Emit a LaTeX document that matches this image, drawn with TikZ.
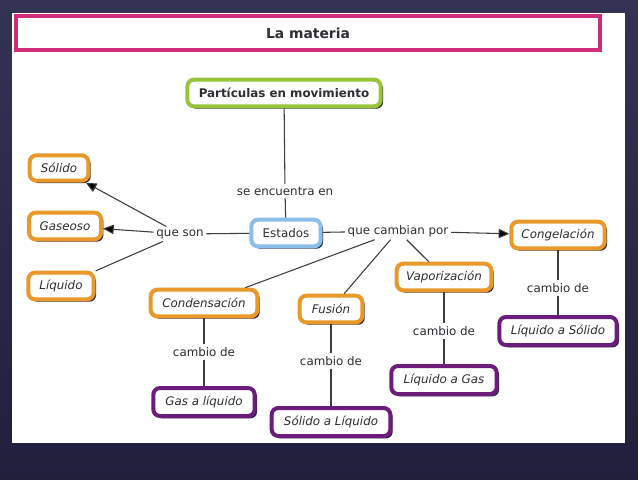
\documentclass[tikz,border=0pt]{standalone}
\usepackage{fontspec}
\setmainfont{DejaVu Sans}
\usepackage{xcolor}
\usetikzlibrary{arrows.meta,shadows}

\definecolor{navytop}{RGB}{52,51,86}
\definecolor{navybot}{RGB}{32,31,60}
\definecolor{boxorange}{RGB}{233,152,42}
\definecolor{boxpurple}{RGB}{108,28,122}
\definecolor{boxgreen}{RGB}{152,196,58}
\definecolor{boxblue}{RGB}{140,190,236}
\definecolor{titlepink}{RGB}{208,44,122}
\definecolor{textgray}{RGB}{45,45,50}
\definecolor{linegray}{RGB}{60,60,65}
\definecolor{shadowc}{RGB}{40,36,60}

\newcommand\mapfont{\fontsize{8.9}{10.5}\selectfont}

\begin{document}
\begin{tikzpicture}[
    x=0.75pt, y=-0.75pt,
    font=\mapfont,
    base/.style={rectangle, rounded corners=5pt, line width=3pt, fill=white,
                 minimum height=20pt, align=center, text=textgray,
                 drop shadow={shadow xshift=1.8pt, shadow yshift=-1.8pt,
                              fill=shadowc, opacity=1}},
    state/.style={base, draw=boxorange, font=\mapfont\itshape},
    change/.style={base, draw=boxpurple, font=\mapfont\itshape, minimum height=21pt},
    concept/.style={base, draw=boxgreen, font=\mapfont\bfseries},
    hub/.style={base, draw=boxblue},
    lbl/.style={inner sep=2pt, text=textgray},
    link/.style={draw=linegray, line width=0.8pt},
    arr/.style={link, -{Triangle[length=8pt,width=7pt,fill=black]}}
]

% slide
\shade[top color=navytop, bottom color=navybot] (0,0) rectangle (638,479);
\fill[white] (12,13) rectangle (625,443);

% title
\node[draw=titlepink, line width=3pt, fill=white, minimum width=438pt, minimum height=26pt,
      text=textgray, font=\fontsize{10.4}{12}\selectfont\bfseries] (title) at (308,33) {La materia};

% concepts
\node[concept, minimum width=145pt] (particulas) at (284,93) {Partículas en movimiento};
\node[hub, minimum width=52pt]      (estados)    at (286,233) {Estados};

% states
\node[state, minimum width=44pt, minimum height=19pt] (solido)  at (59,168) {Sólido};
\node[state, minimum width=54pt] (gaseoso) at (65,226) {Gaseoso};
\node[state, minimum width=49pt] (liquido) at (61,286) {Líquido};

% changes
\node[state, minimum width=70pt] (congelacion)  at (558,235) {Congelación};
\node[state, minimum width=80pt] (condensacion) at (204,303) {Condensación};
\node[state, minimum width=47pt] (fusion)       at (331,309) {Fusión};
\node[state, minimum width=71pt] (vaporizacion) at (444,277) {Vaporización};

\node[change, minimum width=76pt] (gasliq) at (204,402) {Gas a líquido};
\node[change, minimum width=89pt] (solliq) at (331,422) {Sólido a Líquido};
\node[change, minimum width=79pt] (liqgas) at (444,380) {Líquido a Gas};
\node[change, minimum width=88pt] (liqsol) at (558,331) {Líquido a Sólido};

% link labels
\node[lbl] (encuentra) at (285,191) {se encuentra en};
\node[lbl] (queson)    at (180,234) {que son};
\node[lbl] (cambian)   at (398,231) {que cambian por};
\node[lbl] (cambioa)   at (204,352) {cambio de};
\node[lbl] (cambiob)   at (331,361) {cambio de};
\node[lbl] (cambioc)   at (444,331) {cambio de};
\node[lbl] (cambiod)   at (558,288) {cambio de};

% connectors
\draw[link] (particulas) -- (encuentra);
\draw[link] (encuentra) -- (estados);
\draw[link] (estados) -- (queson);
\draw[arr]  (queson) -- (solido);
\draw[arr]  (queson) -- (gaseoso);
\draw[link] (queson) -- (liquido);
\draw[link] (estados) -- (cambian);
\draw[arr]  (cambian) -- (congelacion);
\draw[link] (cambian) -- (condensacion);
\draw[link] (cambian) -- (fusion);
\draw[link] (cambian) -- (vaporizacion);
\draw[link] (condensacion) -- (cambioa);
\draw[link] (cambioa) -- (gasliq);
\draw[link] (fusion) -- (cambiob);
\draw[link] (cambiob) -- (solliq);
\draw[link] (vaporizacion) -- (cambioc);
\draw[link] (cambioc) -- (liqgas);
\draw[link] (congelacion) -- (cambiod);
\draw[link] (cambiod) -- (liqsol);

\end{tikzpicture}
\end{document}
